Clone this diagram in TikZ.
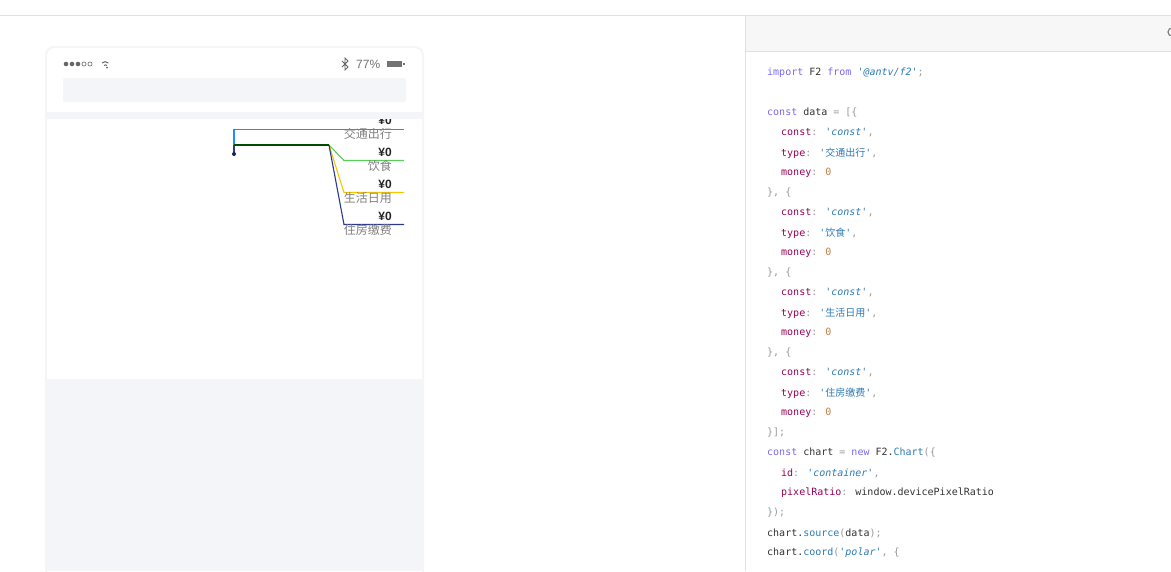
\documentclass[tikz,border=0pt]{standalone}
\usepackage{fontspec}
\setmainfont{Liberation Sans}
\newfontfamily\cjk{Noto Sans CJK SC}
\newfontfamily\codef{DejaVu Sans Mono}
\definecolor{kw}{HTML}{7A6AF0}
\definecolor{st}{HTML}{2E7BB3}
\definecolor{pr}{HTML}{990055}
\definecolor{nu}{HTML}{C0804A}
\definecolor{pu}{HTML}{999999}
\definecolor{bg}{HTML}{F4F5F8}
\definecolor{fb}{HTML}{1890FF}
\definecolor{fg}{HTML}{5BCB5B}
\definecolor{fy}{HTML}{F6C700}
\definecolor{fn}{HTML}{2B3A8C}
\newcommand{\Kw}[1]{\textcolor{kw}{#1}}
\newcommand{\Stx}[1]{\textcolor{st}{\itshape #1}}
\newcommand{\Scx}[1]{\textcolor{st}{\cjk\itshape #1}}
\newcommand{\Ppx}[1]{\textcolor{pr}{#1}}
\newcommand{\Nux}[1]{\textcolor{nu}{#1}}
\newcommand{\Pux}[1]{\textcolor{pu}{#1}}
\begin{document}
\begin{tikzpicture}[x=1pt,y=-1pt,
 code/.style={anchor=west,inner sep=0pt,font=\codef\fontsize{10}{10}\selectfont,text=black!80},
 val/.style={anchor=east,inner sep=0pt,font=\bfseries\fontsize{12}{12}\selectfont,text=black!85},
 lab/.style={anchor=east,inner sep=0pt,font=\cjk\fontsize{12}{12}\selectfont,text=black!50},
 ln/.style={line width=1.1pt}]
\useasboundingbox (0,0) rectangle (1171,571);
\fill[white] (0,0) rectangle (1171,571);
\draw[black!12] (0,15.5) -- (1171,15.5);
% right panel
\fill[black!3] (745,16) rectangle (1171,51);
\draw[black!12] (745.5,16) -- (745.5,571);
\draw[black!12] (745,51.5) -- (1171,51.5);
\draw[black!50,line width=1.2] (1172,32) circle (4);
% phone
\fill[black!4] (45,46) [rounded corners=9] rectangle (424,580);
\fill[white] (47,48) [rounded corners=8] rectangle (422,580);
\fill[bg] (47,379) rectangle (422,571);
\fill[bg] (47,112) rectangle (422,119);
\fill[bg] (63,78) [rounded corners=2] rectangle (406,102);
\foreach \i in {0,1,2}{\fill[black!60] (66+\i*6,64) circle (2.3);}
\foreach \i in {3,4}{\draw[black!60,line width=0.6] (66+\i*6,64) circle (2.1);}
\draw[black!60,line width=1] (102,63) arc (225:315:4.5) (104,65.5) arc(225:315:2);
\fill[black!60] (107,67.5) circle (1);
\draw[black!60,line width=0.8] (342,61) -- (348,67) -- (345,70) -- (345,58) -- (348,61) -- (342,67);
\node[inner sep=0pt,anchor=west,font=\fontsize{12}{12}\selectfont,text=black!55] (pct) at (356,64) {77\%};
\fill[black!55] (387,61) rectangle (402,67);
\fill[black!55] (403,63) rectangle (404.5,65);
% chart
\coordinate (o) at (234,154);
\coordinate (k) at (329,145);
\draw[fb,ln] (o) -- (234,129.5) -- (404,129.5);
\draw[fg,ln] (k) -- (344,160.5) -- (404,160.5);
\draw[fy,ln] (k) -- (344,192.5) -- (404,192.5);
\draw[fn,ln] (k) -- (344,224.5) -- (404,224.5);
\draw[black!70!green,ln] (234,145) -- (k);
\draw[fn,ln] (o) -- (234,145);
\fill[fn!60!black] (o) circle (2);
\begin{scope}
\clip (47,119) rectangle (422,379);
\node[val] (v1) at (392,120) {¥0};
\end{scope}
\node[lab] (l1) at (392,134) {交通出行};
\node[val] (v2) at (392,152) {¥0};
\node[lab] (l2) at (392,166) {饮食};
\node[val] (v3) at (392,184) {¥0};
\node[lab] (l3) at (392,198) {生活日用};
\node[val] (v4) at (392,216) {¥0};
\node[lab] (l4) at (392,230) {住房缴费};
% code
\node[code] (c1) at (767,73) {\Kw{import} F2 \Kw{from} \Stx{'@antv/f2'}\Pux{;}};
\node[code] (c3) at (767,113) {\Kw{const} data \Pux{= [\{}};
\foreach \t [count=\n from 0] in {交通出行,饮食,生活日用,住房缴费}{
 \node[code] at (781,133+\n*80) {\Ppx{const}\Pux{:} \Stx{'const'}\Pux{,}};
 \node[code] at (781,153+\n*80) {\Ppx{type}\Pux{:} \textcolor{st}{'}\Scx{\t}\textcolor{st}{'}\Pux{,}};
 \node[code] at (781,173+\n*80) {\Ppx{money}\Pux{:} \Nux{0}};
}
\foreach \n in {0,1,2}{\node[code] at (767,193+\n*80) {\Pux{\}, \{}};}
\node[code] (c16) at (767,433) {\Pux{\}];}};
\node[code] at (767,453) {\Kw{const} chart \Pux{=} \Kw{new} F2.\textcolor{st}{Chart}\Pux{(\{}};
\node[code] at (781,473) {\Ppx{id}\Pux{:} \Stx{'container'}\Pux{,}};
\node[code] at (781,493) {\Ppx{pixelRatio}\Pux{:} window.devicePixelRatio};
\node[code] at (767,513) {\Pux{\});}};
\node[code] at (767,533) {chart.\textcolor{st}{source}\Pux{(}data\Pux{);}};
\node[code] at (767,553) {chart.\textcolor{st}{coord}\Pux{(}\Stx{'polar'}\Pux{, \{}};
\end{tikzpicture}
\end{document}
